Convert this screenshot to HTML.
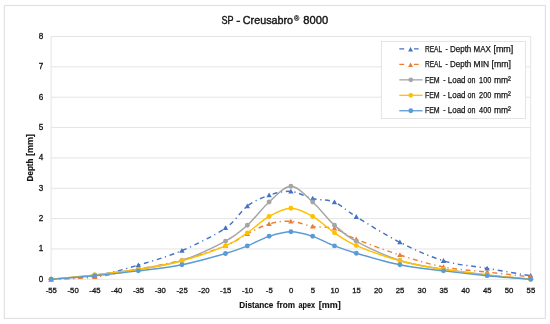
<!DOCTYPE html>
<html><head><meta charset="utf-8"><title>SP - Creusabro 8000</title>
<style>html,body{margin:0;padding:0;background:#fff}svg{display:block}</style></head>
<body>
<svg width="550" height="324" viewBox="0 0 550 324" font-family="'Liberation Sans', sans-serif">
<rect x="0" y="0" width="550" height="324" fill="#fff"/>
<rect x="4.4" y="5.5" width="541" height="312.9" fill="#fff" stroke="#E2E2E2" stroke-width="1.2"/>
<line x1="51.10" x2="530.70" y1="279.30" y2="279.30" stroke="#E1E1E1" stroke-width="0.9"/>
<line x1="51.10" x2="530.70" y1="248.95" y2="248.95" stroke="#E1E1E1" stroke-width="0.9"/>
<line x1="51.10" x2="530.70" y1="218.60" y2="218.60" stroke="#E1E1E1" stroke-width="0.9"/>
<line x1="51.10" x2="530.70" y1="188.25" y2="188.25" stroke="#E1E1E1" stroke-width="0.9"/>
<line x1="51.10" x2="530.70" y1="157.90" y2="157.90" stroke="#E1E1E1" stroke-width="0.9"/>
<line x1="51.10" x2="530.70" y1="127.55" y2="127.55" stroke="#E1E1E1" stroke-width="0.9"/>
<line x1="51.10" x2="530.70" y1="97.20" y2="97.20" stroke="#E1E1E1" stroke-width="0.9"/>
<line x1="51.10" x2="530.70" y1="66.85" y2="66.85" stroke="#E1E1E1" stroke-width="0.9"/>
<line x1="51.10" x2="530.70" y1="36.50" y2="36.50" stroke="#E1E1E1" stroke-width="0.9"/>
<line x1="51.10" x2="51.10" y1="36.50" y2="279.30" stroke="#E1E1E1" stroke-width="0.9"/>
<line x1="530.70" x2="530.70" y1="36.50" y2="279.30" stroke="#E1E1E1" stroke-width="0.9"/>
<text y="23.85" font-size="11.5" fill="#141414" stroke="#141414" stroke-width="0.4"><tspan x="221.5" textLength="12.1" lengthAdjust="spacingAndGlyphs">SP</tspan><tspan x="236.2" textLength="4.2" lengthAdjust="spacingAndGlyphs">-</tspan><tspan x="242.8" textLength="50.3" lengthAdjust="spacingAndGlyphs">Creusabro</tspan><tspan x="293.9" dy="-3.2" font-size="6.4" stroke-width="0.2" textLength="5.3" lengthAdjust="spacingAndGlyphs">®</tspan><tspan x="303.3" dy="3.2" textLength="24.8" lengthAdjust="spacingAndGlyphs">8000</tspan></text>
<text transform="translate(43.25 281.70) scale(0.98 1)" font-size="8.3" fill="#141414" stroke="#141414" stroke-width="0.3" text-anchor="end">0</text>
<text transform="translate(43.25 251.35) scale(0.98 1)" font-size="8.3" fill="#141414" stroke="#141414" stroke-width="0.3" text-anchor="end">1</text>
<text transform="translate(43.25 221.00) scale(0.98 1)" font-size="8.3" fill="#141414" stroke="#141414" stroke-width="0.3" text-anchor="end">2</text>
<text transform="translate(43.25 190.65) scale(0.98 1)" font-size="8.3" fill="#141414" stroke="#141414" stroke-width="0.3" text-anchor="end">3</text>
<text transform="translate(43.25 160.30) scale(0.98 1)" font-size="8.3" fill="#141414" stroke="#141414" stroke-width="0.3" text-anchor="end">4</text>
<text transform="translate(43.25 129.95) scale(0.98 1)" font-size="8.3" fill="#141414" stroke="#141414" stroke-width="0.3" text-anchor="end">5</text>
<text transform="translate(43.25 99.60) scale(0.98 1)" font-size="8.3" fill="#141414" stroke="#141414" stroke-width="0.3" text-anchor="end">6</text>
<text transform="translate(43.25 69.25) scale(0.98 1)" font-size="8.3" fill="#141414" stroke="#141414" stroke-width="0.3" text-anchor="end">7</text>
<text transform="translate(43.25 38.90) scale(0.98 1)" font-size="8.3" fill="#141414" stroke="#141414" stroke-width="0.3" text-anchor="end">8</text>
<text transform="translate(51.30 293.3) scale(0.96 1)" font-size="8.1" fill="#141414" stroke="#141414" stroke-width="0.3" text-anchor="middle">-55</text>
<text transform="translate(73.10 293.3) scale(0.96 1)" font-size="8.1" fill="#141414" stroke="#141414" stroke-width="0.3" text-anchor="middle">-50</text>
<text transform="translate(94.90 293.3) scale(0.96 1)" font-size="8.1" fill="#141414" stroke="#141414" stroke-width="0.3" text-anchor="middle">-45</text>
<text transform="translate(116.70 293.3) scale(0.96 1)" font-size="8.1" fill="#141414" stroke="#141414" stroke-width="0.3" text-anchor="middle">-40</text>
<text transform="translate(138.50 293.3) scale(0.96 1)" font-size="8.1" fill="#141414" stroke="#141414" stroke-width="0.3" text-anchor="middle">-35</text>
<text transform="translate(160.30 293.3) scale(0.96 1)" font-size="8.1" fill="#141414" stroke="#141414" stroke-width="0.3" text-anchor="middle">-30</text>
<text transform="translate(182.10 293.3) scale(0.96 1)" font-size="8.1" fill="#141414" stroke="#141414" stroke-width="0.3" text-anchor="middle">-25</text>
<text transform="translate(203.90 293.3) scale(0.96 1)" font-size="8.1" fill="#141414" stroke="#141414" stroke-width="0.3" text-anchor="middle">-20</text>
<text transform="translate(225.70 293.3) scale(0.96 1)" font-size="8.1" fill="#141414" stroke="#141414" stroke-width="0.3" text-anchor="middle">-15</text>
<text transform="translate(247.50 293.3) scale(0.96 1)" font-size="8.1" fill="#141414" stroke="#141414" stroke-width="0.3" text-anchor="middle">-10</text>
<text transform="translate(269.30 293.3) scale(0.96 1)" font-size="8.1" fill="#141414" stroke="#141414" stroke-width="0.3" text-anchor="middle">-5</text>
<text transform="translate(291.10 293.3) scale(0.96 1)" font-size="8.1" fill="#141414" stroke="#141414" stroke-width="0.3" text-anchor="middle">0</text>
<text transform="translate(312.90 293.3) scale(0.96 1)" font-size="8.1" fill="#141414" stroke="#141414" stroke-width="0.3" text-anchor="middle">5</text>
<text transform="translate(334.70 293.3) scale(0.96 1)" font-size="8.1" fill="#141414" stroke="#141414" stroke-width="0.3" text-anchor="middle">10</text>
<text transform="translate(356.50 293.3) scale(0.96 1)" font-size="8.1" fill="#141414" stroke="#141414" stroke-width="0.3" text-anchor="middle">15</text>
<text transform="translate(378.30 293.3) scale(0.96 1)" font-size="8.1" fill="#141414" stroke="#141414" stroke-width="0.3" text-anchor="middle">20</text>
<text transform="translate(400.10 293.3) scale(0.96 1)" font-size="8.1" fill="#141414" stroke="#141414" stroke-width="0.3" text-anchor="middle">25</text>
<text transform="translate(421.90 293.3) scale(0.96 1)" font-size="8.1" fill="#141414" stroke="#141414" stroke-width="0.3" text-anchor="middle">30</text>
<text transform="translate(443.70 293.3) scale(0.96 1)" font-size="8.1" fill="#141414" stroke="#141414" stroke-width="0.3" text-anchor="middle">35</text>
<text transform="translate(465.50 293.3) scale(0.96 1)" font-size="8.1" fill="#141414" stroke="#141414" stroke-width="0.3" text-anchor="middle">40</text>
<text transform="translate(487.30 293.3) scale(0.96 1)" font-size="8.1" fill="#141414" stroke="#141414" stroke-width="0.3" text-anchor="middle">45</text>
<text transform="translate(509.10 293.3) scale(0.96 1)" font-size="8.1" fill="#141414" stroke="#141414" stroke-width="0.3" text-anchor="middle">50</text>
<text transform="translate(530.90 293.3) scale(0.96 1)" font-size="8.1" fill="#141414" stroke="#141414" stroke-width="0.3" text-anchor="middle">55</text>
<text y="307.8" font-size="8.7" font-weight="bold" fill="#141414" stroke="#141414" stroke-width="0.15"><tspan x="239.3" textLength="34.1" lengthAdjust="spacingAndGlyphs">Distance</tspan><tspan x="276.8" textLength="18.2" lengthAdjust="spacingAndGlyphs">from</tspan><tspan x="298.5" textLength="16.5" lengthAdjust="spacingAndGlyphs">apex</tspan><tspan x="318.8" textLength="21.9" lengthAdjust="spacingAndGlyphs">[mm]</tspan></text>
<text transform="translate(33.2 181.4) rotate(-90)" y="0" font-size="8.7" font-weight="bold" fill="#141414" stroke="#141414" stroke-width="0.15"><tspan x="0.0" textLength="22.8" lengthAdjust="spacingAndGlyphs">Depth</tspan><tspan x="25.5" textLength="22.0" lengthAdjust="spacingAndGlyphs">[mm]</tspan></text>
<path d="M51.10 279.30 C58.37 278.74 80.17 278.32 94.70 275.96 C109.23 273.60 123.77 269.35 138.30 265.13 C152.83 260.90 167.37 256.81 181.90 250.62 C196.43 244.43 214.60 235.42 225.50 228.01 C236.40 220.60 240.03 211.62 247.30 206.16 C254.57 200.69 261.83 197.68 269.10 195.23 C276.37 192.78 283.63 190.88 290.90 191.44 C298.17 191.99 305.43 196.77 312.70 198.57 C319.97 200.36 327.23 199.18 334.50 202.21 C341.77 205.25 345.40 210.10 356.30 216.78 C367.20 223.46 385.37 234.94 399.90 242.27 C414.43 249.61 428.97 256.44 443.50 260.79 C458.03 265.14 472.57 265.88 487.10 268.37 C501.63 270.87 523.43 274.52 530.70 275.75" fill="none" stroke="#4472C4" stroke-width="1.45" stroke-dasharray="4.9 3.7 1.2 3.7" stroke-linejoin="round"/>
<path d="M51.10 276.60 L53.80 281.40 L48.40 281.40 Z" fill="#4472C4"/>
<path d="M94.70 273.26 L97.40 278.06 L92.00 278.06 Z" fill="#4472C4"/>
<path d="M138.30 262.43 L141.00 267.23 L135.60 267.23 Z" fill="#4472C4"/>
<path d="M181.90 247.92 L184.60 252.72 L179.20 252.72 Z" fill="#4472C4"/>
<path d="M225.50 225.31 L228.20 230.11 L222.80 230.11 Z" fill="#4472C4"/>
<path d="M247.30 203.46 L250.00 208.26 L244.60 208.26 Z" fill="#4472C4"/>
<path d="M269.10 192.53 L271.80 197.33 L266.40 197.33 Z" fill="#4472C4"/>
<path d="M290.90 188.74 L293.60 193.54 L288.20 193.54 Z" fill="#4472C4"/>
<path d="M312.70 195.87 L315.40 200.67 L310.00 200.67 Z" fill="#4472C4"/>
<path d="M334.50 199.51 L337.20 204.31 L331.80 204.31 Z" fill="#4472C4"/>
<path d="M356.30 214.08 L359.00 218.88 L353.60 218.88 Z" fill="#4472C4"/>
<path d="M399.90 239.57 L402.60 244.37 L397.20 244.37 Z" fill="#4472C4"/>
<path d="M443.50 258.09 L446.20 262.89 L440.80 262.89 Z" fill="#4472C4"/>
<path d="M487.10 265.67 L489.80 270.47 L484.40 270.47 Z" fill="#4472C4"/>
<path d="M530.70 273.05 L533.40 277.85 L528.00 277.85 Z" fill="#4472C4"/>
<path d="M51.10 279.30 C58.37 278.92 80.17 278.72 94.70 277.02 C109.23 275.33 123.77 271.94 138.30 269.13 C152.83 266.33 167.37 264.05 181.90 260.18 C196.43 256.31 214.60 250.32 225.50 245.92 C236.40 241.51 240.03 237.44 247.30 233.78 C254.57 230.11 261.83 225.99 269.10 223.91 C276.37 221.84 283.63 220.90 290.90 221.33 C298.17 221.76 305.43 225.30 312.70 226.49 C319.97 227.68 327.23 226.34 334.50 228.46 C341.77 230.59 345.40 234.81 356.30 239.24 C367.20 243.66 385.37 250.39 399.90 255.02 C414.43 259.65 428.97 264.18 443.50 267.01 C458.03 269.84 472.57 270.37 487.10 272.02 C501.63 273.66 523.43 276.06 530.70 276.87" fill="none" stroke="#ED7D31" stroke-width="1.45" stroke-dasharray="4.9 3.7 1.2 3.7" stroke-linejoin="round"/>
<path d="M51.10 276.60 L53.80 281.40 L48.40 281.40 Z" fill="#ED7D31"/>
<path d="M94.70 274.32 L97.40 279.12 L92.00 279.12 Z" fill="#ED7D31"/>
<path d="M138.30 266.43 L141.00 271.23 L135.60 271.23 Z" fill="#ED7D31"/>
<path d="M181.90 257.48 L184.60 262.28 L179.20 262.28 Z" fill="#ED7D31"/>
<path d="M225.50 243.22 L228.20 248.02 L222.80 248.02 Z" fill="#ED7D31"/>
<path d="M247.30 231.07 L250.00 235.88 L244.60 235.88 Z" fill="#ED7D31"/>
<path d="M269.10 221.21 L271.80 226.01 L266.40 226.01 Z" fill="#ED7D31"/>
<path d="M290.90 218.63 L293.60 223.43 L288.20 223.43 Z" fill="#ED7D31"/>
<path d="M312.70 223.79 L315.40 228.59 L310.00 228.59 Z" fill="#ED7D31"/>
<path d="M334.50 225.76 L337.20 230.56 L331.80 230.56 Z" fill="#ED7D31"/>
<path d="M356.30 236.54 L359.00 241.34 L353.60 241.34 Z" fill="#ED7D31"/>
<path d="M399.90 252.32 L402.60 257.12 L397.20 257.12 Z" fill="#ED7D31"/>
<path d="M443.50 264.31 L446.20 269.11 L440.80 269.11 Z" fill="#ED7D31"/>
<path d="M487.10 269.32 L489.80 274.12 L484.40 274.12 Z" fill="#ED7D31"/>
<path d="M530.70 274.17 L533.40 278.97 L528.00 278.97 Z" fill="#ED7D31"/>
<path d="M51.10 279.30 C58.37 278.57 80.17 276.57 94.70 274.90 C109.23 273.23 123.77 271.69 138.30 269.28 C152.83 266.88 167.37 265.16 181.90 260.48 C196.43 255.80 214.60 247.08 225.50 241.21 C236.40 235.34 240.03 231.80 247.30 225.28 C254.57 218.75 261.83 208.56 269.10 202.06 C276.37 195.56 283.63 186.28 290.90 186.28 C298.17 186.28 305.43 195.56 312.70 202.06 C319.97 208.56 327.23 218.73 334.50 225.28 C341.77 231.83 345.40 235.49 356.30 241.36 C367.20 247.23 385.37 255.83 399.90 260.48 C414.43 265.14 428.97 266.88 443.50 269.28 C458.03 271.69 472.57 273.23 487.10 274.90 C501.63 276.57 523.43 278.57 530.70 279.30" fill="none" stroke="#A5A5A5" stroke-width="1.45"  stroke-linejoin="round"/>
<circle cx="51.10" cy="279.30" r="2.45" fill="#A5A5A5"/>
<circle cx="94.70" cy="274.90" r="2.45" fill="#A5A5A5"/>
<circle cx="138.30" cy="269.28" r="2.45" fill="#A5A5A5"/>
<circle cx="181.90" cy="260.48" r="2.45" fill="#A5A5A5"/>
<circle cx="225.50" cy="241.21" r="2.45" fill="#A5A5A5"/>
<circle cx="247.30" cy="225.28" r="2.45" fill="#A5A5A5"/>
<circle cx="269.10" cy="202.06" r="2.45" fill="#A5A5A5"/>
<circle cx="290.90" cy="186.28" r="2.45" fill="#A5A5A5"/>
<circle cx="312.70" cy="202.06" r="2.45" fill="#A5A5A5"/>
<circle cx="334.50" cy="225.28" r="2.45" fill="#A5A5A5"/>
<circle cx="356.30" cy="241.36" r="2.45" fill="#A5A5A5"/>
<circle cx="399.90" cy="260.48" r="2.45" fill="#A5A5A5"/>
<circle cx="443.50" cy="269.28" r="2.45" fill="#A5A5A5"/>
<circle cx="487.10" cy="274.90" r="2.45" fill="#A5A5A5"/>
<circle cx="530.70" cy="279.30" r="2.45" fill="#A5A5A5"/>
<path d="M51.10 279.30 C58.37 278.57 80.17 276.52 94.70 274.90 C109.23 273.28 123.77 271.94 138.30 269.59 C152.83 267.24 167.37 264.73 181.90 260.79 C196.43 256.84 214.60 250.57 225.50 245.92 C236.40 241.26 240.03 237.77 247.30 232.86 C254.57 227.96 261.83 220.57 269.10 216.48 C276.37 212.38 283.63 208.28 290.90 208.28 C298.17 208.28 305.43 212.38 312.70 216.48 C319.97 220.57 327.23 228.01 334.50 232.86 C341.77 237.72 345.40 240.96 356.30 245.61 C367.20 250.27 385.37 256.79 399.90 260.79 C414.43 264.78 428.97 267.24 443.50 269.59 C458.03 271.94 472.57 273.28 487.10 274.90 C501.63 276.52 523.43 278.57 530.70 279.30" fill="none" stroke="#FFC000" stroke-width="1.45"  stroke-linejoin="round"/>
<circle cx="51.10" cy="279.30" r="2.45" fill="#FFC000"/>
<circle cx="94.70" cy="274.90" r="2.45" fill="#FFC000"/>
<circle cx="138.30" cy="269.59" r="2.45" fill="#FFC000"/>
<circle cx="181.90" cy="260.79" r="2.45" fill="#FFC000"/>
<circle cx="225.50" cy="245.92" r="2.45" fill="#FFC000"/>
<circle cx="247.30" cy="232.86" r="2.45" fill="#FFC000"/>
<circle cx="269.10" cy="216.48" r="2.45" fill="#FFC000"/>
<circle cx="290.90" cy="208.28" r="2.45" fill="#FFC000"/>
<circle cx="312.70" cy="216.48" r="2.45" fill="#FFC000"/>
<circle cx="334.50" cy="232.86" r="2.45" fill="#FFC000"/>
<circle cx="356.30" cy="245.61" r="2.45" fill="#FFC000"/>
<circle cx="399.90" cy="260.79" r="2.45" fill="#FFC000"/>
<circle cx="443.50" cy="269.59" r="2.45" fill="#FFC000"/>
<circle cx="487.10" cy="274.90" r="2.45" fill="#FFC000"/>
<circle cx="530.70" cy="279.30" r="2.45" fill="#FFC000"/>
<path d="M51.10 279.30 C58.37 278.69 80.17 277.06 94.70 275.66 C109.23 274.25 123.77 272.68 138.30 270.86 C152.83 269.04 167.37 267.63 181.90 264.73 C196.43 261.84 214.60 256.64 225.50 253.50 C236.40 250.37 240.03 248.78 247.30 245.92 C254.57 243.05 261.83 238.69 269.10 236.32 C276.37 233.96 283.63 231.74 290.90 231.74 C298.17 231.74 305.43 233.96 312.70 236.32 C319.97 238.69 327.23 243.10 334.50 245.92 C341.77 248.73 345.40 250.06 356.30 253.20 C367.20 256.34 385.37 261.79 399.90 264.73 C414.43 267.68 428.97 269.04 443.50 270.86 C458.03 272.68 472.57 274.25 487.10 275.66 C501.63 277.06 523.43 278.69 530.70 279.30" fill="none" stroke="#5B9BD5" stroke-width="1.45"  stroke-linejoin="round"/>
<circle cx="51.10" cy="279.30" r="2.45" fill="#5B9BD5"/>
<circle cx="94.70" cy="275.66" r="2.45" fill="#5B9BD5"/>
<circle cx="138.30" cy="270.86" r="2.45" fill="#5B9BD5"/>
<circle cx="181.90" cy="264.73" r="2.45" fill="#5B9BD5"/>
<circle cx="225.50" cy="253.50" r="2.45" fill="#5B9BD5"/>
<circle cx="247.30" cy="245.92" r="2.45" fill="#5B9BD5"/>
<circle cx="269.10" cy="236.32" r="2.45" fill="#5B9BD5"/>
<circle cx="290.90" cy="231.74" r="2.45" fill="#5B9BD5"/>
<circle cx="312.70" cy="236.32" r="2.45" fill="#5B9BD5"/>
<circle cx="334.50" cy="245.92" r="2.45" fill="#5B9BD5"/>
<circle cx="356.30" cy="253.20" r="2.45" fill="#5B9BD5"/>
<circle cx="399.90" cy="264.73" r="2.45" fill="#5B9BD5"/>
<circle cx="443.50" cy="270.86" r="2.45" fill="#5B9BD5"/>
<circle cx="487.10" cy="275.66" r="2.45" fill="#5B9BD5"/>
<circle cx="530.70" cy="279.30" r="2.45" fill="#5B9BD5"/>
<rect x="381.4" y="41.4" width="144" height="77.1" fill="#fff" stroke="#E1E1E1" stroke-width="0.9"/>
<path d="M399.3 48.95 H404.2 M414.0 48.95 H418.7" stroke="#4472C4" stroke-width="1.25" fill="none"/>
<path d="M410.55 47.05 L413.00 51.45 L408.10 51.45 Z" fill="#4472C4"/>
<text y="51.80" font-size="8.7" fill="#141414" stroke="#141414" stroke-width="0.25"><tspan x="424.9" textLength="17.3" lengthAdjust="spacingAndGlyphs">REAL</tspan><tspan x="445.4" textLength="2.3" lengthAdjust="spacingAndGlyphs">-</tspan><tspan x="450.0" textLength="21.3" lengthAdjust="spacingAndGlyphs">Depth</tspan><tspan x="473.6" textLength="17.3" lengthAdjust="spacingAndGlyphs">MAX</tspan><tspan x="493.4" textLength="19.9" lengthAdjust="spacingAndGlyphs">[mm]</tspan></text>
<path d="M399.3 64.40 H404.2 M414.0 64.40 H418.7" stroke="#ED7D31" stroke-width="1.25" fill="none"/>
<path d="M410.55 62.50 L413.00 66.90 L408.10 66.90 Z" fill="#ED7D31"/>
<text y="67.10" font-size="8.7" fill="#141414" stroke="#141414" stroke-width="0.25"><tspan x="424.9" textLength="17.3" lengthAdjust="spacingAndGlyphs">REAL</tspan><tspan x="445.4" textLength="2.3" lengthAdjust="spacingAndGlyphs">-</tspan><tspan x="450.0" textLength="21.3" lengthAdjust="spacingAndGlyphs">Depth</tspan><tspan x="473.6" textLength="15.5" lengthAdjust="spacingAndGlyphs">MIN</tspan><tspan x="491.6" textLength="19.4" lengthAdjust="spacingAndGlyphs">[mm]</tspan></text>
<path d="M399.3 79.85 H422.6" stroke="#A5A5A5" stroke-width="1.3" fill="none"/>
<circle cx="410.80" cy="79.85" r="2.40" fill="#A5A5A5"/>
<text y="82.50" font-size="8.7" fill="#141414" stroke="#141414" stroke-width="0.25"><tspan x="424.9" textLength="14.7" lengthAdjust="spacingAndGlyphs">FEM</tspan><tspan x="443.2" textLength="2.3" lengthAdjust="spacingAndGlyphs">-</tspan><tspan x="447.8" textLength="17.7" lengthAdjust="spacingAndGlyphs">Load</tspan><tspan x="467.6" textLength="7.9" lengthAdjust="spacingAndGlyphs">on</tspan><tspan x="479.1" textLength="12.2" lengthAdjust="spacingAndGlyphs">100</tspan><tspan x="494.0" textLength="16.9" lengthAdjust="spacingAndGlyphs">mm²</tspan></text>
<path d="M399.3 95.30 H422.6" stroke="#FFC000" stroke-width="1.3" fill="none"/>
<circle cx="410.80" cy="95.30" r="2.40" fill="#FFC000"/>
<text y="97.90" font-size="8.7" fill="#141414" stroke="#141414" stroke-width="0.25"><tspan x="424.9" textLength="14.7" lengthAdjust="spacingAndGlyphs">FEM</tspan><tspan x="443.2" textLength="2.3" lengthAdjust="spacingAndGlyphs">-</tspan><tspan x="447.8" textLength="17.7" lengthAdjust="spacingAndGlyphs">Load</tspan><tspan x="467.6" textLength="7.9" lengthAdjust="spacingAndGlyphs">on</tspan><tspan x="479.1" textLength="12.2" lengthAdjust="spacingAndGlyphs">200</tspan><tspan x="494.0" textLength="16.9" lengthAdjust="spacingAndGlyphs">mm²</tspan></text>
<path d="M399.3 110.75 H422.6" stroke="#5B9BD5" stroke-width="1.3" fill="none"/>
<circle cx="410.80" cy="110.75" r="2.40" fill="#5B9BD5"/>
<text y="113.30" font-size="8.7" fill="#141414" stroke="#141414" stroke-width="0.25"><tspan x="424.9" textLength="14.7" lengthAdjust="spacingAndGlyphs">FEM</tspan><tspan x="443.2" textLength="2.3" lengthAdjust="spacingAndGlyphs">-</tspan><tspan x="447.8" textLength="17.7" lengthAdjust="spacingAndGlyphs">Load</tspan><tspan x="467.6" textLength="7.9" lengthAdjust="spacingAndGlyphs">on</tspan><tspan x="479.1" textLength="12.2" lengthAdjust="spacingAndGlyphs">400</tspan><tspan x="494.0" textLength="16.9" lengthAdjust="spacingAndGlyphs">mm²</tspan></text>
</svg>
</body></html>
